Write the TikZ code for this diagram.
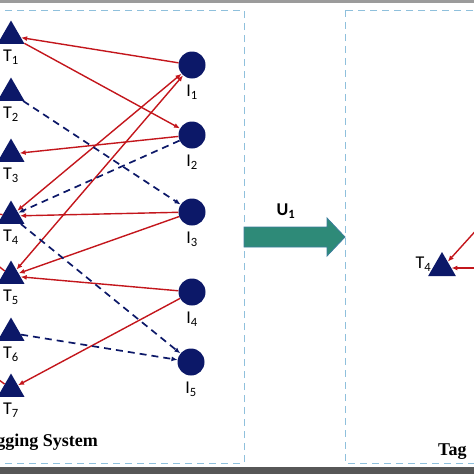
\documentclass[tikz,border=0pt]{standalone}
\usepackage{fontspec}
\setmainfont{Liberation Serif}
\newfontfamily\calfont{Carlito}
\usepackage{tikz}
\usetikzlibrary{shapes.geometric, arrows.meta, positioning, calc}
\definecolor{tagnavy}{HTML}{0C1868}
\definecolor{linkred}{HTML}{C3161C}
\definecolor{boxblue}{HTML}{8FC0DC}
\definecolor{moveteal}{HTML}{2E8A78}
\definecolor{moveedge}{HTML}{3B7E9C}
\definecolor{bandgray}{HTML}{9B9B9B}
\definecolor{banddark}{HTML}{575757}
\tikzstyle{tagnode} = [regular polygon, regular polygon sides=3, minimum size=31pt, inner sep=0pt,
  fill=tagnavy, draw=none]
\tikzstyle{rdnode} = [circle, minimum size=27pt, inner sep=0pt, fill=tagnavy, draw=none]
\tikzstyle{idlabel} = [font=\calfont\fontsize{18}{18}\selectfont, text=black, inner sep=1pt]
\tikzstyle{link} = [linkred, line width=1.4pt]
\tikzstyle{dlink} = [tagnavy, line width=1.7pt, dash pattern=on 7pt off 5pt]
\tikzstyle{headT} = [-{Latex[length=6pt,width=5pt]}]
\tikzstyle{headboth} = [{Latex[length=6pt,width=5pt]}-{Latex[length=6pt,width=5pt]}]
\tikzstyle{panel} = [boxblue, line width=1pt, dash pattern=on 7pt off 5pt]
\tikzstyle{bigmove} = [fill=moveteal, draw=moveedge, line width=0.8pt]
\tikzstyle{sysname} = [font=\bfseries\fontsize{18}{18}\selectfont, text=black, inner sep=0pt]

\begin{document}
\begin{tikzpicture}[x=1pt, y=-1pt]
  \useasboundingbox (0,0) rectangle (474,474);
  \fill[bandgray] (0,0) rectangle (474,3);
  \fill[banddark] (0,467) rectangle (474,474);

  % panels
  \draw[panel] (-10,10) rectangle (244,463);
  \draw[panel] (345,10) rectangle (490,463);

  % tags
  \node (t1) [tagnode, label={[idlabel, label distance=5pt]below:T\textsubscript{1}}] at (11,36)  {};
  \node (t2) [tagnode, label={[idlabel, label distance=5pt]below:T\textsubscript{2}}] at (11,93)  {};
  \node (t3) [tagnode, label={[idlabel, label distance=5pt]below:T\textsubscript{3}}] at (11,154) {};
  \node (t4) [tagnode, label={[idlabel, label distance=5pt]below:T\textsubscript{4}}] at (11,216) {};
  \node (t5) [tagnode, label={[idlabel, label distance=5pt]below:T\textsubscript{5}}] at (11,276) {};
  \node (t6) [tagnode, label={[idlabel, label distance=5pt]below:T\textsubscript{6}}] at (11,333) {};
  \node (t7) [tagnode, label={[idlabel, label distance=5pt]below:T\textsubscript{7}}] at (11,389) {};

  % items
  \node (i1) [rdnode, label={[idlabel, label distance=5pt]below:I\textsubscript{1}}] at (192,65)  {};
  \node (i2) [rdnode, label={[idlabel, label distance=5pt]below:I\textsubscript{2}}] at (192,135) {};
  \node (i3) [rdnode, label={[idlabel, label distance=5pt]below:I\textsubscript{3}}] at (192,212) {};
  \node (i4) [rdnode, label={[idlabel, label distance=5pt]below:I\textsubscript{4}}] at (192,292) {};
  \node (i5) [rdnode, label={[idlabel, label distance=5pt]below:I\textsubscript{5}}] at (191,362) {};

  % cut-off links at the left edge
  \coordinate (cut4) at (-20,211);
  \coordinate (cut5) at (-14,256);
  \coordinate (cut7) at (-14,370);
  \draw[link] (cut4) -- (t4);
  \draw[link] (cut5) -- (t5);
  \draw[link] (cut7) -- (t7);

  \draw[link, headT]    (i1) -- (t1);
  \draw[link, headT]    (t1) -- (i2);
  \draw[link, headT]    (i2) -- (t3);
  \draw[link, headboth] (t4) -- (i1);
  \draw[link, headboth] (t5) -- (i1);
  \draw[link, headT]    (i3) -- (t4);
  \draw[link, headT]    (i3) -- (t5);
  \draw[link, headT]    (i4) -- (t5);
  \draw[link, headT]    (i4) -- (t7);

  \draw[dlink, headT] (t2) -- (i3);
  \draw[dlink, headT] (i2) -- (t4);
  \draw[dlink, headT] (t4) -- (i5);
  \draw[dlink, headT] (t6) -- (i5);

  \node (sys) [sysname, anchor=base east] at (98,446) {Tagging System};

  % update arrow
  \filldraw[bigmove] (244,227) -- (327,227) -- (327,218) -- (345,237) -- (327,256)
    -- (327,247) -- (244,247) -- cycle;
  \node (upd) [font=\calfont\bfseries\fontsize{18}{18}\selectfont] at (286,211) {U\textsubscript{1}};

  % right panel
  \node (t4r) [tagnode, minimum size=32pt] at (442,268) {};
  \node (t4rlab) [idlabel, left=0pt of t4r, yshift=4pt] {T\textsubscript{4}};
  \coordinate (rup) at (480,226);
  \coordinate (rmid) at (480,268);
  \draw[link, headT] (rup) -- (t4r);
  \draw[link, headT] (rmid) -- (t4r);

  \node (tag) [sysname, anchor=base west] at (438,455) {Tag};
\end{tikzpicture}
\end{document}
